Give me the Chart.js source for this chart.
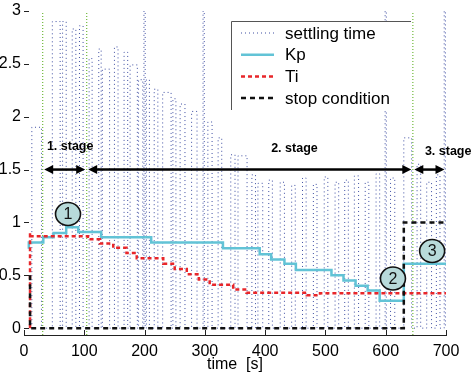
<!DOCTYPE html>
<html>
<head>
<meta charset="utf-8">
<script src="https://cdn.jsdelivr.net/npm/chart.js@4.4.0/dist/chart.umd.min.js"></script>
<style>
  html, body { margin: 0; padding: 0; background: #fff; }
  #wrap { width: 474px; height: 373px; }
</style>
</head>
<body>
<div id="wrap"><canvas id="tuningChart" width="474" height="373"></canvas></div>
<script>
// settling time pulses: start [s], end [s], height
const stStart = [13, 47, 64, 80, 92, 108, 124, 130, 150, 166, 176, 190, 199, 203, 216, 230, 247, 259, 278, 297, 305, 322, 343, 355, 378, 388, 406, 425, 444, 462, 480, 498, 516, 532, 548, 566, 584, 599, 608, 630, 652, 668, 684, 697];
const stEnd   = [29, 60, 70, 86, 98, 113, 128, 142, 156, 172, 188, 197, 201, 208, 222, 244, 252, 267, 287, 299, 312, 328, 350, 370, 384, 396, 412, 432, 450, 468, 486, 504, 522, 538, 555, 572, 590, 601, 615, 643, 658, 676, 690, 699];
const stTop   = [1.9, 2.9, 2.9, 2.83, 2.86, 2.55, 2.64, 2.45, 2.66, 2.61, 2.49, 2.35, 3.0, 2.35, 2.26, 2.23, 2.17, 2.12, 2.05, 3.0, 1.95, 1.8, 1.64, 1.63, 1.45, 1.37, 1.4, 1.38, 1.35, 1.42, 1.36, 1.43, 1.38, 1.4, 1.44, 1.38, 1.46, 3.0, 1.42, 1.8, 1.55, 1.38, 1.45, 3.0];

// Kp steps (value holds from time until next time)
const kpTime  = [8, 32, 49, 70, 90, 128, 211, 330, 391, 410, 432, 451, 510, 530, 550, 570, 590, 630, 640, 700];
const kpValue = [0.75, 0.81, 0.86, 0.9, 0.955, 0.91, 0.86, 0.81, 0.755, 0.70, 0.65, 0.61, 0.55, 0.50, 0.45, 0.40, 0.355, 0.26, 0.61, 0.61];

// Ti steps
const tiTime  = [10, 10, 106, 126, 148, 170, 187, 231, 250, 270, 290, 308, 347, 369, 469, 491, 636, 700];
const tiValue = [0, 0.9, 0.87, 0.84, 0.80, 0.76, 0.71, 0.66, 0.61, 0.56, 0.51, 0.46, 0.41, 0.365, 0.335, 0.31, 0.33, 0.33];

// stop condition
const stopTime  = [10, 10, 630, 630, 700];
const stopValue = [0.5, 0, 0, 1, 1];

// stage boundaries and labels
const stageTime  = [31, 104, 645, 700];
const stageNames = ['1. stage', '2. stage', '3. stage'];
const stageTextTime  = [38, 410, 665];
const stageTextValue = [1.72, 1.70, 1.67];
const arrowValue = 1.5;

// numbered markers
const markTime  = [73, 612, 677];
const markValue = [1.08, 0.47, 0.73];
const markText  = ['1', '2', '3'];

const xTicks = [0, 100, 200, 300, 400, 500, 600, 700];
const yTicks = [0, 0.5, 1, 1.5, 2, 2.5, 3];
const yMin = -0.065, yMax = 3;

const FONT = "'Liberation Sans', Arial, sans-serif";
const NAVY = '#3e4ea2', CYAN = '#62c3d6', RED = '#e8262a', GREEN = '#6fb83a';

function toPts(xs, ys) {
    return xs.map((t, i) => ({ x: t, y: ys[i] }));
}

const settlingPts = [];
stStart.forEach((t0, i) => {
    settlingPts.push({ x: t0, y: 0 }, { x: t0, y: stTop[i] }, { x: stEnd[i], y: stTop[i] }, { x: stEnd[i], y: 0 });
});

const greenSets = stageTime.slice(0, 3).map(t => ({
    label: 'stage',
    data: [{ x: t, y: yMin }, { x: t, y: yMax }],
    borderColor: GREEN,
    borderWidth: 1.2,
    borderDash: [1, 2],
    pointRadius: 0,
    order: 3
}));

const legendItems = [
    { text: 'settling time', color: NAVY, width: 1.2, dash: [1, 3] },
    { text: 'Kp', color: CYAN, width: 2.5, dash: [] },
    { text: 'Ti', color: RED, width: 2.5, dash: [4, 3] },
    { text: 'stop condition', color: '#111', width: 2.5, dash: [5, 4] }
];

const annotate = {
    id: 'annotate',
    afterDatasetsDraw(chart) {
        const { ctx, chartArea, scales: { x, y } } = chart;
        ctx.save();

        // inward tick marks
        ctx.strokeStyle = '#222';
        ctx.lineWidth = 1;
        ctx.setLineDash([]);
        yTicks.forEach(v => {
            const py = Math.round(y.getPixelForValue(v)) + 0.5;
            ctx.beginPath(); ctx.moveTo(chartArea.left, py); ctx.lineTo(chartArea.left + 5, py); ctx.stroke();
        });
        xTicks.forEach(v => {
            const px = Math.round(x.getPixelForValue(v)) + 0.5;
            ctx.beginPath(); ctx.moveTo(px, chartArea.bottom); ctx.lineTo(px, chartArea.bottom - 5); ctx.stroke();
        });

        // stage arrows
        const ay = y.getPixelForValue(arrowValue);
        ctx.strokeStyle = '#000';
        ctx.fillStyle = '#000';
        ctx.lineWidth = 2.5;
        const head = (hx, dir) => {
            ctx.beginPath();
            ctx.moveTo(hx, ay);
            ctx.lineTo(hx + dir * 9, ay - 4.5);
            ctx.lineTo(hx + dir * 9, ay + 4.5);
            ctx.closePath();
            ctx.fill();
        };
        for (let i = 0; i < stageTime.length - 1; i++) {
            const x1 = x.getPixelForValue(stageTime[i]) + 1.5;
            const x2 = x.getPixelForValue(stageTime[i + 1]) - 1.5;
            ctx.beginPath(); ctx.moveTo(x1 + 6, ay); ctx.lineTo(x2 - 6, ay); ctx.stroke();
            head(x1, 1);
            head(x2, -1);
        }

        // stage labels
        ctx.font = 'bold 12.5px ' + FONT;
        ctx.textAlign = 'left';
        ctx.textBaseline = 'middle';
        stageNames.forEach((s, i) => {
            ctx.fillText(s, x.getPixelForValue(stageTextTime[i]), y.getPixelForValue(stageTextValue[i]));
        });

        // numbered circles
        ctx.font = '16px ' + FONT;
        ctx.textAlign = 'center';
        markText.forEach((s, i) => {
            const cx = x.getPixelForValue(markTime[i]);
            const cy = y.getPixelForValue(markValue[i]);
            ctx.beginPath();
            ctx.ellipse(cx, cy, 12.5, 11.5, 0, 0, Math.PI * 2);
            ctx.fillStyle = '#b8dada';
            ctx.fill();
            ctx.lineWidth = 1.6;
            ctx.strokeStyle = '#111';
            ctx.stroke();
            ctx.fillStyle = '#111';
            ctx.fillText(s, cx, cy + 1);
        });

        // legend box
        const bx = 231, by = 21, bw = 180, bh = 89;
        ctx.fillStyle = '#fff';
        ctx.fillRect(bx, by, bw, bh);
        ctx.strokeStyle = '#555';
        ctx.lineWidth = 1;
        ctx.beginPath();
        ctx.moveTo(bx + 0.5, by + bh); ctx.lineTo(bx + 0.5, by + 0.5); ctx.lineTo(bx + bw, by + 0.5);
        ctx.stroke();
        ctx.font = '17px ' + FONT;
        ctx.textAlign = 'left';
        legendItems.forEach((it, i) => {
            const ly = 33 + i * 21.7;
            ctx.strokeStyle = it.color;
            ctx.lineWidth = it.width;
            ctx.setLineDash(it.dash);
            ctx.beginPath(); ctx.moveTo(241, ly); ctx.lineTo(274, ly); ctx.stroke();
            ctx.setLineDash([]);
            ctx.fillStyle = '#000';
            ctx.fillText(it.text, 285, ly + 1);
        });

        ctx.restore();
    }
};

new Chart(document.getElementById('tuningChart'), {
    type: 'line',
    data: {
        datasets: [
            {
                label: 'stop condition',
                data: toPts(stopTime, stopValue),
                borderColor: '#111',
                borderWidth: 2.5,
                borderDash: [5, 4],
                pointRadius: 0,
                order: 0
            },
            {
                label: 'Ti',
                data: toPts(tiTime, tiValue),
                borderColor: RED,
                borderWidth: 2.5,
                borderDash: [4, 3],
                stepped: 'after',
                pointRadius: 0,
                order: 1
            },
            {
                label: 'Kp',
                data: toPts(kpTime, kpValue),
                borderColor: CYAN,
                borderWidth: 2.5,
                stepped: 'after',
                pointRadius: 0,
                order: 2
            },
            ...greenSets,
            {
                label: 'settling time',
                data: settlingPts,
                borderColor: NAVY,
                borderWidth: 1,
                borderDash: [1, 3],
                pointRadius: 0,
                order: 4
            }
        ]
    },
    options: {
        responsive: false,
        animation: false,
        devicePixelRatio: 1,
        events: [],
        layout: { padding: { left: 0, right: 28, top: 8.5, bottom: 0 } },
        plugins: { legend: { display: false }, tooltip: { enabled: false } },
        scales: {
            x: {
                type: 'linear',
                min: 0,
                max: 700,
                afterBuildTicks: s => { s.ticks = xTicks.map(v => ({ value: v })); },
                afterFit: s => { s.height = 38; },
                grid: { display: false, drawTicks: false },
                border: { display: true, color: '#222', width: 1 },
                ticks: { color: '#000', padding: 7, autoSkip: false, maxRotation: 0, font: { family: FONT, size: 16 } },
                title: {
                    display: true,
                    text: 'time  [s]',
                    color: '#000',
                    padding: { top: 0, bottom: 0 },
                    font: { family: FONT, size: 16, lineHeight: 1 }
                }
            },
            y: {
                type: 'linear',
                min: yMin,
                max: yMax,
                afterBuildTicks: s => { s.ticks = yTicks.map(v => ({ value: v })); },
                afterFit: s => { s.width = 24; },
                grid: { display: false, drawTicks: false },
                border: { display: false },
                ticks: {
                    color: '#000',
                    padding: 3,
                    font: { family: FONT, size: 16, lineHeight: 1 },
                    callback: v => String(v)
                }
            }
        }
    },
    plugins: [annotate]
});
</script>
</body>
</html>
